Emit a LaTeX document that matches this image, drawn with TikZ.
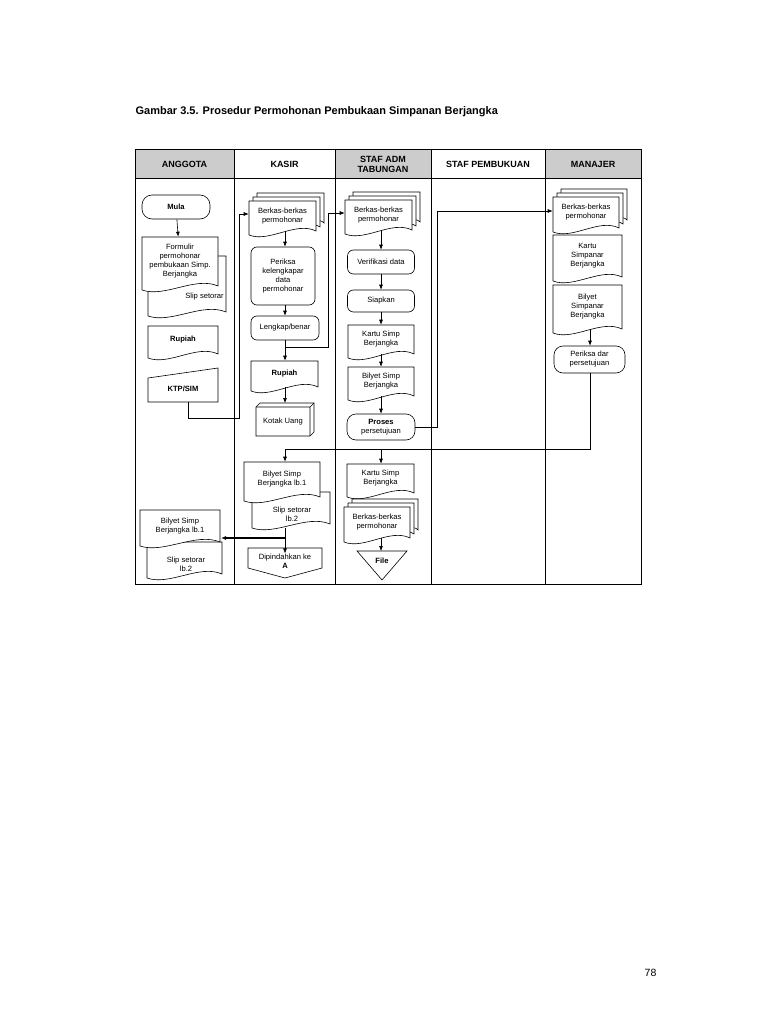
\documentclass[tikz,border=0pt]{standalone}
\usepackage{fontspec}
\setmainfont{Liberation Sans}
\usetikzlibrary{arrows.meta,calc}
\newcommand\docsh[4]{%
 \pgfmathsetmacro\dw{#3-#1}%
 \draw[fill=white] (#1,#2) -- (#3,#2) -- (#3,#4-6) .. controls (#1+0.7*\dw,#4-16) and (#1+0.3*\dw,#4+6) .. (#1,#4-2) -- cycle;}
% name, x1,y1,x2,y2, text
\newcommand\docnode[6]{%
 \docsh{#2}{#3}{#4}{#5}%
 \node[txt,minimum width=#4-#2,minimum height=#5-#3-6] (#1) at ($(#2,#3)!0.5!(#4,#5-6)$) {#6};}
\newcommand\multidoc[6]{%
 \docsh{#2+8}{#3-8}{#4+8}{#5-8}\docsh{#2+4}{#3-4}{#4+4}{#5-4}\docnode{#1}{#2}{#3}{#4}{#5}{#6}}
\tikzset{
 txt/.style={inner sep=0pt,align=center,font=\fontsize{7.6}{9}\selectfont},
 proc/.style={txt,draw,fill=white,rounded corners=6pt},
 arr/.style={-{Latex[length=5pt,width=4pt]}},
 hd/.style={font=\bfseries\fontsize{9}{10}\selectfont,align=center,inner sep=0pt},
}
\begin{document}
\begin{tikzpicture}[x=1pt,y=-1pt,line width=0.6pt]
\useasboundingbox (0,0) rectangle (768,1024);
\node[anchor=west,font=\bfseries\fontsize{11}{12}\selectfont] (title) at (132,112) {Gambar 3.5. Prosedur Permohonan Pembukaan Simpanan Berjangka};
\node[anchor=east,font=\fontsize{10.5}{12}\selectfont] (pg) at (660,973) {78};
% headers
\fill[gray!40] (135,150) rectangle (234,178);
\fill[gray!40] (335,150) rectangle (431,178);
\fill[gray!40] (545,150) rectangle (641,178);
\draw[line width=1pt] (135,150) rectangle (641,584);
\draw (135,178) -- (641,178);
\foreach \x in {234,335,431,545} \draw (\x,150) -- (\x,584);
\node[hd] (h1) at (184.5,164) {ANGGOTA};
\node[hd] (h2) at (284.5,164) {KASIR};
\node[hd] (h3) at (383,164) {STAF ADM\\TABUNGAN};
\node[hd] (h4) at (488,164) {STAF PEMBUKUAN};
\node[hd] (h5) at (593,164) {MANAJER};
% ANGGOTA
\node[proc,rounded corners=10pt,minimum width=68,minimum height=24,font=\bfseries\fontsize{7.6}{9}\selectfont] (mula) at (176,207) {Mula};
\docnode{slip1}{148}{256}{226}{318}{}
\node[txt,anchor=east] (slip1t) at (224,297) {Slip setorar};
\docnode{form}{142}{237}{218}{292}{Formulir\\permohonar\\pembukaan Simp.\\Berjangka}
\docnode{rup1}{148}{326}{218}{360}{\bfseries Rupiah}
\draw[fill=white] (148,378) -- (218,368) -- (218,402) -- (148,402) -- cycle;
\node[txt,font=\bfseries\fontsize{7.6}{9}\selectfont] (ktp) at (183,389) {KTP/SIM};
\docnode{slip3}{147}{542}{222}{580}{}
\node[txt] (slip3t) at (186,564) {Slip setorar\\lb.2};
\docnode{bil3}{140}{510}{220}{548}{Bilyet Simp\\Berjangka lb.1}
% KASIR
\multidoc{berk1}{249}{201}{316}{237}{Berkas-berkas\\permohonar}
\node[proc,minimum width=64,minimum height=58] (periksa) at (283,276) {Periksa\\kelengkapar\\data\\permohonar};
\node[proc,minimum width=68,minimum height=24] (lengkap) at (285,328) {Lengkap/benar};
\docnode{rup2}{251}{361}{318}{393}{\bfseries Rupiah}
\draw[fill=white] (256,407) -- (260,403) -- (314,403) -- (314,432) -- (310,436) -- (256,436) -- cycle;
\draw (256,407) -- (310,407) -- (310,436) (310,407) -- (314,403);
\node[txt] (kotak) at (283,421.5) {Kotak Uang};
\docnode{slip2}{252}{492}{330}{530}{}
\node[txt] (slip2t) at (292,514) {Slip setorar\\lb.2};
\docnode{bil2}{244}{462}{320}{503}{Bilyet Simp\\Berjangka lb.1}
\draw[fill=white] (248,548) -- (322,548) -- (322,568) -- (285,578) -- (248,568) -- cycle;
\node[txt] (pindah) at (285,561) {Dipindahkan ke\\\bfseries A};
% STAF ADM
\multidoc{berk2}{345}{200}{412}{236}{Berkas-berkas\\permohonar}
\node[proc,minimum width=67,minimum height=24] (verif) at (381,262) {Verifikasi data};
\node[proc,minimum width=67,minimum height=22] (siap) at (381,301) {Siapkan};
\docnode{kartu1}{348}{325}{414}{360}{Kartu Simp\\Berjangka}
\docnode{bilyet1}{348}{367}{414}{402}{Bilyet Simp\\Berjangka}
\node[proc,rounded corners=9pt,minimum width=68,minimum height=26] (proses) at (381,427) {\bfseries Proses\\persetujuan};
\docnode{kartu2}{347}{464}{414}{499}{Kartu Simp\\Berjangka}
\multidoc{berk3}{344}{507}{410}{544}{Berkas-berkas\\permohonar}
\draw[fill=white] (357,551) -- (407,551) -- (382,580) -- cycle;
\node[txt,font=\bfseries\fontsize{7.6}{9}\selectfont] (file) at (382,561) {File};
% MANAJER
\multidoc{berk4}{553}{197}{619}{234}{Berkas-berkas\\permohonar}
\docnode{kartu3}{553}{235}{622}{283}{Kartu\\Simpanar\\Berjangka}
\docnode{bilyet3}{553}{285}{622}{335}{Bilyet\\Simpanar\\Berjangka}
\node[proc,rounded corners=9pt,minimum width=71,minimum height=27] (periksa2) at (589.5,359.5) {Periksa dar\\persetujuan};
% connectors
\draw[arr] (mula) -- (form);
\draw[arr] (188,402) -- (188,418) -- (239,418) -- (239,214) -- (berk1.west|-0,214);
\draw[arr] (berk1.south-|285,0) -- (periksa.north-|285,0);
\draw[arr] (periksa.south-|285,0) -- (lengkap.north);
\draw[arr] (lengkap.south) -- (rup2.north-|285,0);
\draw[arr] (rup2.south-|285,0) -- (285,403);
\draw[arr] (285,347) -- (328,347) -- (328,213) -- (berk2.west|-0,213);
\draw[arr] (berk2.south-|381,0) -- (verif.north);
\draw[arr] (verif.south) -- (siap.north);
\draw[arr] (siap.south) -- (kartu1.north-|381,0);
\draw[arr] (kartu1.south-|381,0) -- (bilyet1.north-|381,0);
\draw[arr] (bilyet1.south-|381,0) -- (proses.north);
\draw[arr] (proses.east) -- (437,427) -- (437,211) -- (berk4.west|-0,211);
\draw[arr] (bilyet3.south-|590,0) -- (periksa2.north-|590,0);
\draw (periksa2.south-|590,0) -- (590,449) -- (285,449);
\draw[arr] (285,449) -- (bil2.north-|285,0);
\draw[arr] (381,449) -- (kartu2.north-|381,0);
\draw[arr] (285,528) -- (pindah.north-|285,548);
\draw[arr,line width=1.4pt] (285,538) -- (221,538);
\draw[arr] (berk3.south-|381,0) -- (381,551);
\end{tikzpicture}
\end{document}
